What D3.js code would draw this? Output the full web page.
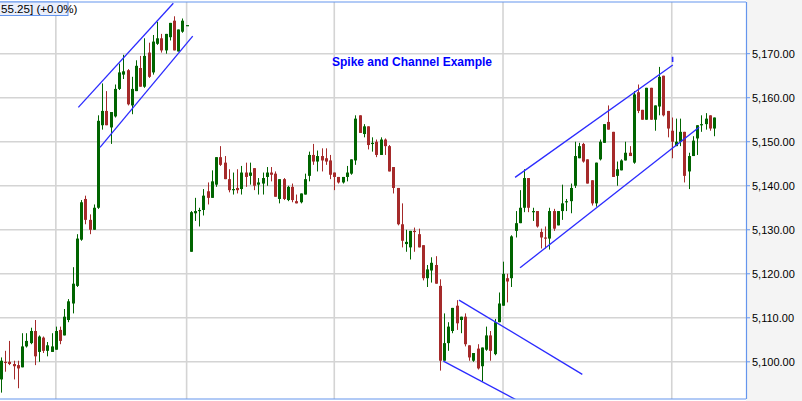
<!DOCTYPE html>
<html><head><meta charset="utf-8">
<script src="https://cdn.jsdelivr.net/npm/d3@7"></script>
<style>html,body{margin:0;padding:0;background:#fff;overflow:hidden}</style>
</head><body><svg id="c" width="802" height="401"></svg>
<script>
// ---- data (price values) ----
const opens = [5096.0,5100.0,5100.0,5099.5,5099.25,5098.75,5103.5,5104.25,5107.0,5102.25,
5105.5,5102.5,5102.25,5102.75,5107.25,5106.0,5109.5,5113.25,5117.25,5127.75,
5137.0,5132.25,5130.0,5135.0,5153.75,5157.0,5153.25,5155.75,5162.0,5165.25,
5166.25,5158.25,5161.5,5166.75,5162.5,5170.25,5165.75,5172.25,5173.5,5170.75,
5173.75,5177.5,5170.5,5175.0,5176.5,5125.0,5133.75,5134.25,5134.5,5138.75,
5137.25,5140.25,5146.5,5145.25,5141.5,5139.0,5139.5,5139.25,5143.0,5142.25,
5144.0,5140.25,5140.5,5142.0,5143.0,5142.75,5137.0,5141.5,5136.75,5139.75,
5136.5,5136.25,5138.0,5142.25,5147.0,5145.5,5146.75,5146.25,5145.75,5143.0,
5142.0,5140.75,5142.0,5142.75,5145.75,5156.0,5151.75,5153.5,5149.5,5150.0,
5147.0,5150.5,5149.0,5144.25,5139.5,5131.25,5126.75,5126.0,5129.75,5129.0,
5126.5,5119.0,5120.75,5122.0,5117.25,5100.25,5104.25,5107.0,5112.75,5109.5,
5110.25,5103.75,5100.25,5103.0,5099.0,5102.75,5106.0,5101.75,5109.0,5112.75,
5119.0,5119.0,5129.75,5131.5,5135.0,5141.75,5134.0,5134.25,5129.5,5128.25,
5128.0,5134.25,5131.0,5134.25,5136.25,5136.5,5140.0,5146.25,5149.5,5146.0,
5141.25,5136.0,5146.0,5149.75,5154.5,5152.25,5142.25,5143.5,5145.75,5147.5,
5145.25,5161.25,5157.25,5155.0,5162.25,5155.0,5158.0,5165.0,5157.0,5152.5,
5149.0,5150.0,5152.25,5143.25,5146.75,5150.75,5153.75,5154.0,5156.0,5153.0];
const highs = [5101.0,5102.5,5104.75,5100.25,5100.25,5106.5,5106.5,5107.75,5109.5,5106.0,
5105.75,5104.5,5106.5,5108.0,5108.0,5112.0,5114.25,5121.5,5129.0,5136.75,
5137.75,5133.5,5135.75,5156.0,5163.25,5161.5,5156.75,5163.0,5167.75,5169.75,
5166.5,5164.75,5168.5,5169.5,5173.5,5172.5,5174.25,5177.25,5174.5,5174.5,
5177.0,5178.5,5175.5,5178.0,5176.5,5134.25,5137.25,5135.0,5139.25,5140.75,
5143.5,5146.5,5149.0,5146.75,5143.75,5143.0,5143.75,5144.5,5145.25,5145.25,
5144.0,5141.75,5143.0,5144.25,5144.25,5143.25,5141.5,5141.75,5140.0,5140.5,
5138.0,5138.25,5142.75,5147.75,5149.5,5148.0,5148.5,5148.5,5147.0,5143.0,
5142.0,5142.0,5144.5,5146.0,5156.0,5156.0,5154.0,5153.5,5151.0,5150.5,
5151.0,5150.75,5149.25,5144.25,5139.5,5136.0,5130.0,5129.75,5130.5,5130.25,
5126.5,5122.0,5123.75,5124.0,5118.75,5111.0,5109.0,5112.25,5114.0,5110.25,
5111.0,5103.75,5102.0,5104.0,5103.25,5108.0,5107.0,5109.75,5115.75,5122.75,
5120.0,5128.75,5134.25,5139.0,5143.75,5141.75,5135.0,5134.25,5130.25,5130.75,
5135.0,5134.75,5134.25,5140.25,5137.0,5140.5,5150.0,5149.75,5149.75,5146.0,
5141.25,5145.25,5150.5,5154.0,5158.25,5152.25,5145.5,5146.0,5150.0,5149.0,
5161.5,5163.0,5157.25,5162.25,5162.25,5158.25,5167.0,5165.0,5157.0,5155.5,
5155.25,5155.25,5152.25,5147.5,5151.25,5153.75,5156.0,5156.5,5156.0,5155.5];
const lows = [5093.0,5097.75,5099.25,5096.0,5094.0,5098.75,5103.25,5104.0,5099.25,5100.0,
5102.0,5101.25,5102.25,5102.75,5104.0,5106.0,5109.0,5111.0,5117.0,5127.5,
5131.25,5129.0,5130.0,5134.75,5152.75,5153.75,5149.5,5155.5,5161.75,5164.25,
5158.25,5156.25,5161.5,5162.5,5162.25,5164.5,5165.25,5172.0,5170.25,5170.0,
5173.0,5170.75,5170.5,5174.75,5176.5,5125.0,5132.0,5130.75,5133.25,5135.75,
5137.25,5139.75,5144.5,5141.5,5138.5,5138.0,5138.25,5138.0,5139.75,5140.25,
5139.0,5138.0,5138.0,5140.0,5141.0,5137.5,5136.0,5136.75,5136.5,5136.25,
5136.0,5136.0,5138.0,5141.0,5144.75,5143.25,5143.25,5144.75,5141.5,5139.0,
5140.5,5140.5,5141.0,5142.5,5144.75,5152.0,5151.0,5148.25,5147.75,5146.5,
5147.0,5147.0,5143.25,5138.25,5131.0,5126.0,5125.0,5123.25,5125.0,5126.0,
5118.5,5117.0,5118.0,5117.75,5098.0,5100.25,5102.5,5106.5,5107.25,5106.5,
5103.5,5100.25,5100.0,5098.25,5095.5,5102.5,5100.25,5101.5,5109.0,5112.75,
5113.5,5117.0,5128.25,5131.5,5134.0,5134.0,5132.0,5130.5,5125.75,5125.75,
5125.5,5129.75,5131.0,5132.25,5134.25,5133.75,5139.5,5146.25,5145.25,5140.5,
5135.5,5135.25,5145.75,5149.75,5152.75,5142.0,5140.0,5143.5,5145.75,5146.75,
5145.0,5156.5,5155.0,5155.0,5155.0,5152.5,5156.0,5155.75,5151.0,5146.25,
5149.0,5149.0,5140.75,5139.25,5146.75,5147.0,5152.25,5152.75,5152.5,5151.25];
const closes = [5100.25,5099.75,5099.5,5099.0,5098.5,5103.5,5104.75,5107.0,5101.25,5105.75,
5102.5,5103.75,5103.5,5107.0,5104.75,5110.25,5113.75,5117.75,5128.0,5136.25,
5132.25,5130.0,5135.0,5154.75,5157.0,5153.75,5156.75,5162.0,5165.75,5166.0,
5158.5,5162.0,5167.25,5162.5,5169.5,5164.75,5172.75,5173.5,5170.75,5174.5,
5177.0,5170.75,5175.5,5177.5,5176.5,5134.0,5134.25,5134.5,5137.75,5137.25,
5141.0,5146.5,5144.75,5141.5,5139.0,5139.25,5139.0,5143.0,5142.0,5143.0,
5140.0,5140.75,5141.75,5143.0,5142.5,5137.5,5141.5,5137.0,5139.75,5136.75,
5136.0,5138.25,5141.5,5147.0,5145.5,5146.75,5145.75,5145.5,5142.5,5142.0,
5140.75,5142.0,5143.0,5146.0,5155.25,5152.0,5153.5,5149.25,5149.75,5147.0,
5150.5,5149.0,5143.25,5139.5,5131.25,5127.5,5127.25,5129.75,5129.5,5126.0,
5119.0,5121.0,5122.5,5117.75,5100.25,5104.25,5108.0,5112.25,5108.75,5110.25,
5104.0,5101.0,5102.0,5098.5,5103.25,5106.0,5102.5,5109.0,5113.25,5120.0,
5118.25,5128.5,5131.5,5135.0,5141.75,5135.0,5134.25,5130.75,5128.25,5128.0,
5134.25,5130.25,5134.25,5136.0,5136.5,5139.5,5146.75,5149.0,5145.5,5140.5,
5136.0,5145.25,5150.0,5154.0,5152.75,5142.0,5143.75,5145.75,5147.5,5146.75,
5160.75,5157.0,5155.0,5162.25,5155.0,5158.25,5164.75,5156.0,5153.0,5150.0,
5150.0,5152.25,5142.25,5146.75,5150.25,5153.75,5154.0,5155.25,5153.0,5155.5];
const priceTicks = [5100,5110,5120,5130,5140,5150,5160,5170];
const sessionBreaks = [13,44,79,119,159];            // bar indices of the vertical grid lines
// trend lines: [barIndex1, price1, barIndex2, price2]
const trendLines = [
  [18.33,5157.8,40.85,5181.45],
  [23.47,5148.73,45.45,5174.0],
  [108.58,5114.02,137.8,5097.14],
  [104.86,5100.16,122.26,5091.3],
  [121.86,5141.9,159.25,5167.43],
  [123.04,5121.36,165.48,5153.27]
];
const markerLines = [[159.2,5169.3,159.2,5168.1]];
const titleText = "Spike and Channel Example";
const infoText = "55.25] (+0.0%)";

// ---- drawing ----
const W = 802, H = 401, plotR = 746, plotT = 2, plotB = 399;
const svg = d3.select("#c");
const x = d3.scaleLinear().domain([-0.237, 176.6]).range([0, plotR]);
const y = d3.scaleLinear().domain([5182.2, 5091.1]).range([0, H]);
const FONT = "'Liberation Sans', Arial, sans-serif";
const BLUE = "#6495ed";

svg.append("rect").attr("x",0).attr("y",0).attr("width",W).attr("height",H).attr("fill","#fff");
svg.append("rect").attr("x",plotR).attr("y",0).attr("width",W-plotR).attr("height",H).attr("fill","#f4f4f4");

svg.append("defs").append("clipPath").attr("id","plotclip")
  .append("rect").attr("x",0).attr("y",plotT).attr("width",plotR).attr("height",plotB-plotT);

const plot = svg.append("g").attr("clip-path","url(#plotclip)");

// grid
plot.append("g").selectAll("line").data(priceTicks).join("line")
  .attr("x1",0).attr("x2",plotR)
  .attr("y1",d=>y(d)).attr("y2",d=>y(d))
  .attr("stroke","#d4d4d4").attr("stroke-width",1.6);
plot.append("g").selectAll("line").data(sessionBreaks).join("line")
  .attr("x1",d=>x(d)).attr("x2",d=>x(d))
  .attr("y1",plotT).attr("y2",plotB)
  .attr("stroke","#d4d4d4").attr("stroke-width",1.6);

// candles
const bars = d3.range(opens.length).map(i=>({i,o:opens[i],h:highs[i],l:lows[i],c:closes[i]}));
const UP = "#006400", DN = "#a52a2a";
const cg = plot.append("g");
cg.selectAll("line").data(bars).join("line")
  .attr("x1",d=>Math.round(x(d.i))+0.5).attr("x2",d=>Math.round(x(d.i))+0.5)
  .attr("y1",d=>y(d.h)).attr("y2",d=>y(d.l))
  .attr("stroke",d=>d.c>=d.o?UP:DN).attr("stroke-width",1);
cg.selectAll("rect").data(bars).join("rect")
  .attr("x",d=>Math.round(x(d.i))-1)
  .attr("width",3)
  .attr("y",d=>Math.min(y(d.o),y(d.c)))
  .attr("height",d=>Math.max(1.2,Math.abs(y(d.o)-y(d.c))))
  .attr("fill",d=>d.c>=d.o?UP:DN);

// trend lines
plot.append("g").selectAll("line").data(trendLines).join("line")
  .attr("x1",d=>x(d[0])).attr("y1",d=>y(d[1]))
  .attr("x2",d=>x(d[2])).attr("y2",d=>y(d[3]))
  .attr("stroke","#2b2bff").attr("stroke-width",1.3);
plot.append("g").selectAll("line").data(markerLines).join("line")
  .attr("x1",d=>x(d[0])).attr("y1",d=>y(d[1]))
  .attr("x2",d=>x(d[2])).attr("y2",d=>y(d[3]))
  .attr("stroke","#2b2bff").attr("stroke-width",1.6);

// frame
svg.append("line").attr("x1",0).attr("x2",plotR).attr("y1",plotT).attr("y2",plotT).attr("stroke",BLUE).attr("stroke-width",1.2);
svg.append("line").attr("x1",0).attr("x2",plotR).attr("y1",plotB).attr("y2",plotB).attr("stroke",BLUE).attr("stroke-width",1.2);
svg.append("line").attr("x1",plotR+0.5).attr("x2",plotR+0.5).attr("y1",plotT).attr("y2",plotB).attr("stroke",BLUE).attr("stroke-width",1.2);

// right axis
const ax = svg.append("g");
ax.selectAll("line").data(priceTicks).join("line")
  .attr("x1",plotR).attr("x2",plotR+4)
  .attr("y1",d=>y(d)).attr("y2",d=>y(d))
  .attr("stroke",BLUE).attr("stroke-width",1);
ax.selectAll("text").data(priceTicks).join("text")
  .attr("x",plotR+6).attr("y",d=>y(d)+4)
  .attr("font-family",FONT).attr("font-size",11).attr("fill","#000")
  .text(d=>d3.format(",.2f")(d));

// title
svg.append("text").attr("x",412).attr("y",66).attr("text-anchor","middle")
  .attr("font-family",FONT).attr("font-size",12).attr("font-weight","bold")
  .attr("fill","#0000ff").text(titleText);

// info box
svg.append("rect").attr("x",-2).attr("y",2).attr("width",70).attr("height",13.5)
  .attr("fill","#e9eefb").attr("stroke",BLUE).attr("stroke-width",1);
svg.append("text").attr("x",1).attr("y",12.5).attr("text-anchor","start")
  .attr("font-family",FONT).attr("font-size",11.6).attr("fill","#000").text(infoText);
</script></body></html>
